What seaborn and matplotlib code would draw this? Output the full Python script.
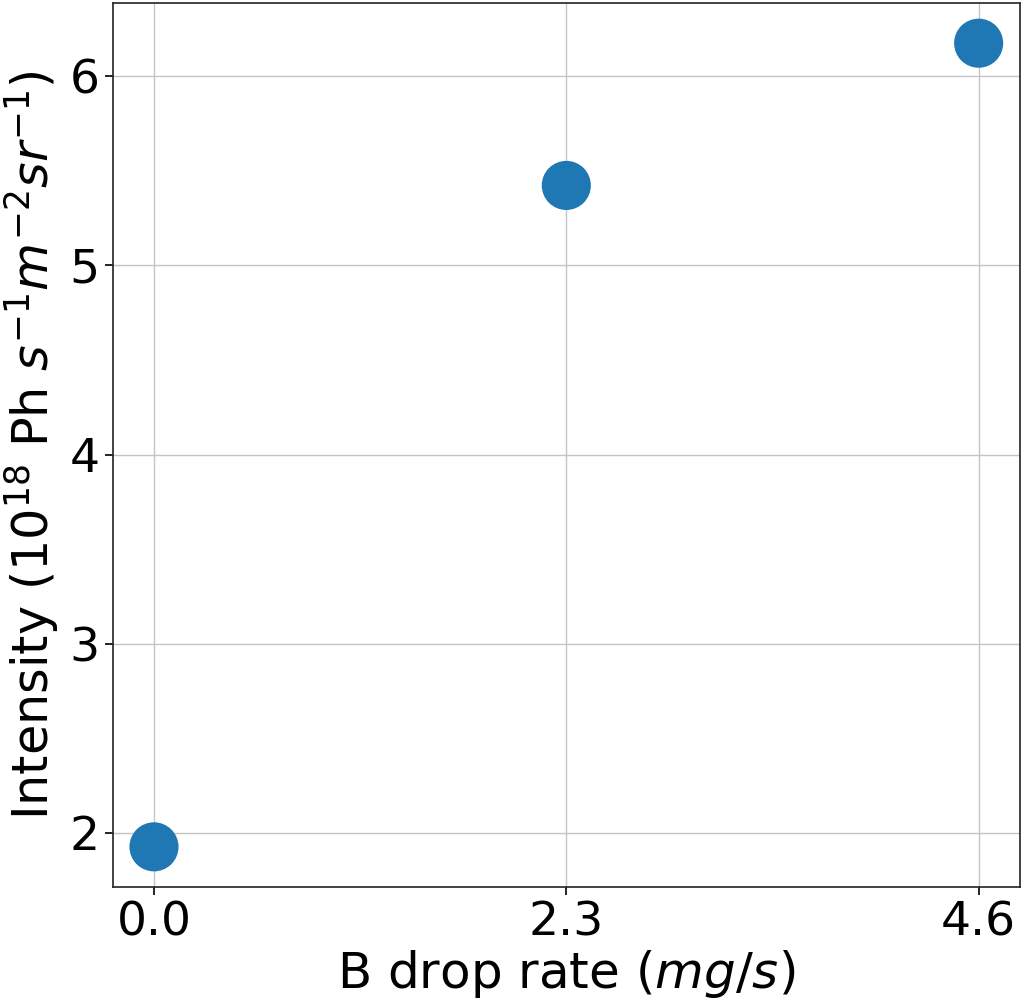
import numpy as np
import pandas as pd
import seaborn as sns
import matplotlib.pyplot as plt

# data
drop_rate = [0.0, 2.3, 4.6]
intensity = [1.926, 5.423, 6.175]
x_ticks = [0.0, 2.3, 4.6]
y_ticks = [2, 3, 4, 5, 6]

df = pd.DataFrame({'rate': drop_rate, 'intensity': intensity})

sns.set_style("ticks")
plt.rcParams['font.family'] = ['DejaVu Sans']
plt.rcParams['font.size'] = 34
plt.rcParams['text.color'] = 'black'
plt.rcParams['axes.labelcolor'] = 'black'
plt.rcParams['xtick.color'] = 'black'
plt.rcParams['ytick.color'] = 'black'

fig = plt.figure(figsize=(10.25, 10.05), dpi=100)
ax = fig.add_axes([0.110, 0.1174, 0.885, 0.8796])

sns.scatterplot(data=df, x='rate', y='intensity', s=1250, color='#1f77b4',
                edgecolor='none', ax=ax, zorder=3)

ax.grid(True, color='#c4c4c4', linewidth=1.0)
ax.set_axisbelow(True)
ax.set_xticks(x_ticks)
ax.set_xticklabels([f'{v:.1f}' for v in x_ticks])
ax.set_yticks(y_ticks)
ax.tick_params(labelsize=34, length=6, width=1.2, color='black')
for sp in ax.spines.values():
    sp.set_visible(True)
    sp.set_color('#222222')
    sp.set_linewidth(1.2)

ax.set_xlabel('B drop rate ($mg/s$)', fontsize=36, labelpad=2)
ax.set_ylabel('Intensity ($10^{18}$ Ph $s^{-1}m^{-2}sr^{-1}$)', fontsize=35.5, labelpad=6)
ax.margins(0.05)

fig.savefig('out.png', dpi=100)
